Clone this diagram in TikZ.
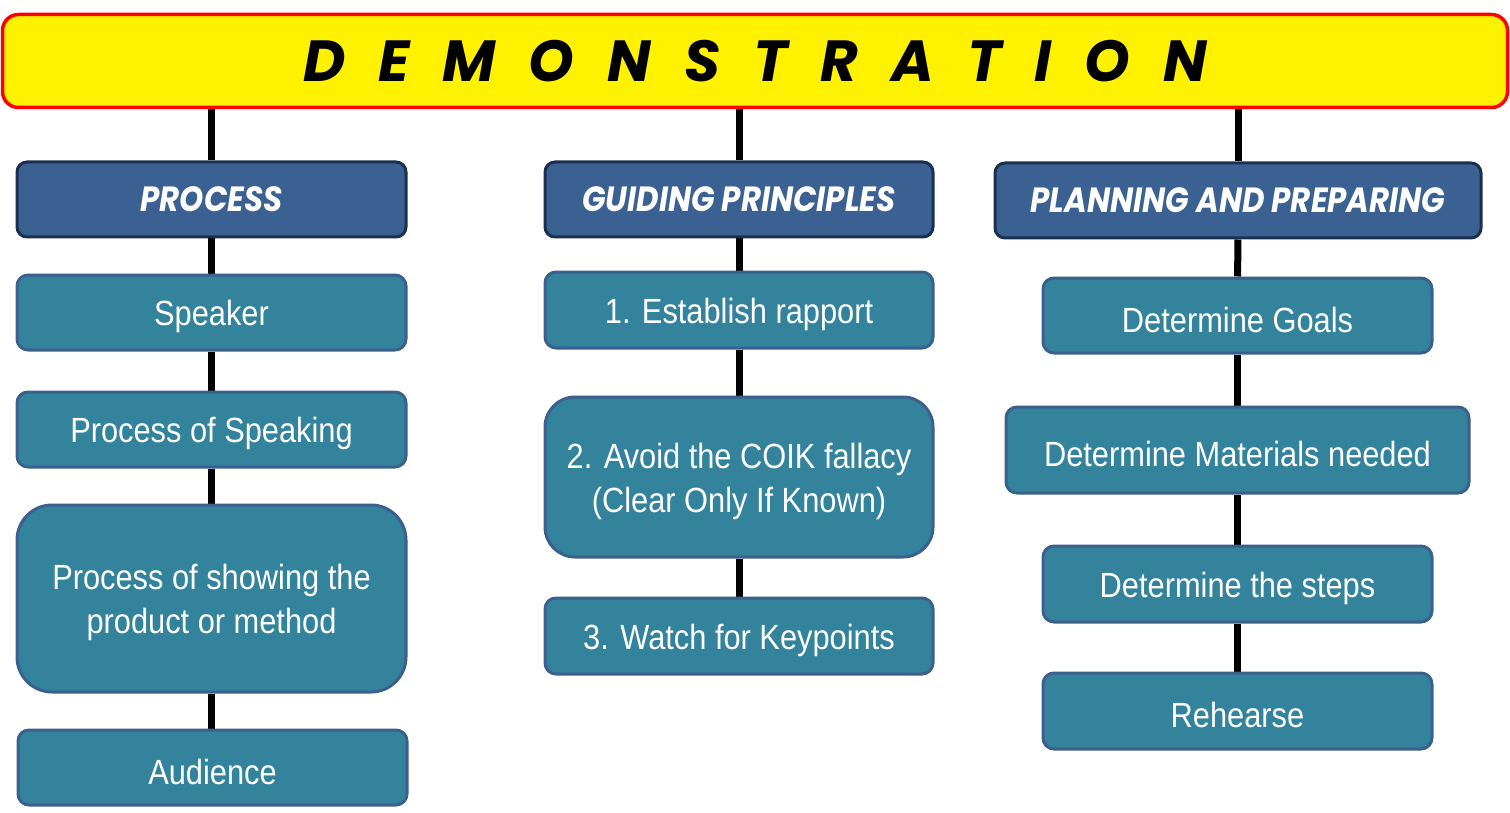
\documentclass[tikz,border=0pt]{standalone}
\usepackage{fontspec}
\setmainfont{Liberation Sans}
\newfontfamily\bodyfont[FakeStretch=0.88]{Liberation Sans}
\newfontfamily\hdrfont[FakeStretch=0.88]{Poppins}
\newfontfamily\ttlfont{Poppins}
\usetikzlibrary{backgrounds}
\definecolor{hdrfill}{RGB}{58,97,146}
\definecolor{hdrdraw}{RGB}{27,48,80}
\definecolor{tealfill}{RGB}{50,131,155}
\definecolor{tealdraw}{RGB}{60,96,142}
\newcommand\upstrut{\rule{0pt}{34pt}}
\tikzset{
  hdr/.style={draw=hdrdraw, fill=hdrfill, line width=3pt, rounded corners=10pt,
    text=white, font=\hdrfont\bfseries\itshape\fontsize{35}{40}\selectfont,
    inner sep=0pt},
  tbox/.style={draw=tealdraw, fill=tealfill, line width=3pt, rounded corners=11pt,
    text=white, font=\bodyfont\fontsize{35}{44}\selectfont, align=center,
    inner sep=0pt},
  conn/.style={line width=7pt, draw=black}
}
\newcommand\hsp{\hspace{33pt}}
\begin{document}
\begin{tikzpicture}[x=1pt,y=-1pt]
\useasboundingbox (0,0) rectangle (1510,813);
% title
\node[draw=red, fill=yellow, line width=3.5pt, rounded corners=16pt,
  minimum width=1505pt, minimum height=93pt, inner sep=0pt,
  font=\ttlfont\bfseries\itshape\fontsize{58}{60}\selectfont] (title) at (755,61)
  {D\hsp E\hsp M\hsp O\hsp N\hsp S\hsp T\hsp R\hsp A\hsp T\hsp I\hsp O\hsp N};
% headers
\node[hdr, minimum width=389pt, minimum height=75pt] (h1) at (211.5,199.5) {PROCESS};
\node[hdr, minimum width=388pt, minimum height=75pt] (h2) at (739,199.5) {GUIDING PRINCIPLES};
\node[hdr, minimum width=486pt, minimum height=75pt] (h3) at (1238,200.5) {PLANNING AND PREPARING};
% column 1
\node[tbox, minimum width=389pt, minimum height=75pt] (a1) at (211.5,312.5) {\upstrut Speaker};
\node[tbox, minimum width=389pt, minimum height=75pt] (a2) at (211.5,429.5) {\upstrut Process of Speaking};
\node[tbox, rounded corners=35pt, minimum width=389pt, minimum height=187pt] (a3) at (211.5,598.5) {\upstrut Process of showing the\\product or method};
\node[tbox, minimum width=389pt, minimum height=75pt] (a4) at (212.5,767.5) {\upstrut Audience};
% column 2
\node[tbox, minimum width=388pt, minimum height=76pt] (b1) at (739,310) {\upstrut 1. Establish rapport};
\node[tbox, rounded corners=30pt, minimum width=388pt, minimum height=160pt] (b2) at (739,477) {\upstrut 2. Avoid the COIK fallacy\\(Clear Only If Known)};
\node[tbox, minimum width=388pt, minimum height=76pt] (b3) at (739,636) {\upstrut 3. Watch for Keypoints};
% column 3
\node[tbox, minimum width=389pt, minimum height=75pt] (c1) at (1237.5,315.5) {\upstrut Determine Goals};
\node[tbox, minimum width=463pt, minimum height=86pt] (c2) at (1237.5,450) {\upstrut Determine Materials needed};
\node[tbox, minimum width=389pt, minimum height=76pt] (c3) at (1237.5,584) {\upstrut Determine the steps};
\node[tbox, minimum width=389pt, minimum height=76pt] (c4) at (1237.5,711) {\upstrut Rehearse};
% connectors
\begin{pgfonlayer}{background}
\draw[conn] (title.south -| h1.north) -- (h1.north);
\draw[conn] (title.south -| h2.north) -- (h2.north);
\draw[conn] (title.south -| h3.north) -- (h3.north);
\draw[conn] (h1) -- (a1);
\draw[conn] (a1) -- (a2);
\draw[conn] (a2) -- (a3);
\draw[conn] (a3.south) -- (a3.south |- a4.north);
\draw[conn] (h2) -- (b1);
\draw[conn] (b1) -- (b2);
\draw[conn] (b2) -- (b3);
\draw[conn] (h3) -- (c1);
\draw[conn] (c1) -- (c2);
\draw[conn] (c2) -- (c3);
\draw[conn] (c3) -- (c4);
\end{pgfonlayer}
\end{tikzpicture}
\end{document}
